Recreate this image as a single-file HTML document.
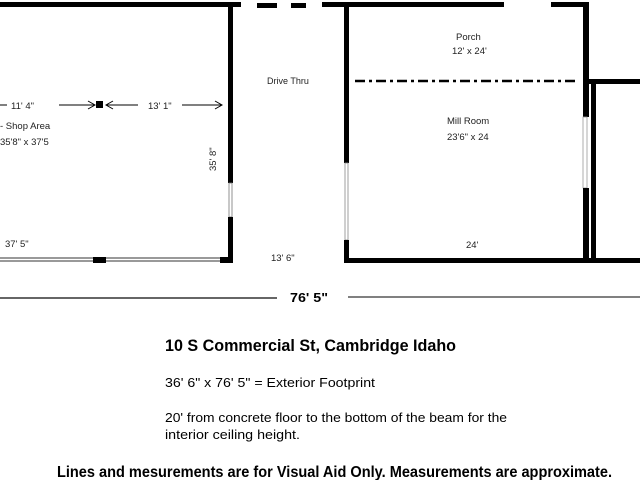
<!DOCTYPE html>
<html><head><style>body{margin:0;background:#fff}svg{display:block}</style></head>
<body>
<svg width="640" height="480" viewBox="0 0 640 480" xmlns="http://www.w3.org/2000/svg" font-family="Liberation Sans, sans-serif">
<rect width="640" height="480" fill="#fff"/>
<!-- Shop area -->
<rect x="0" y="2" width="241" height="5" fill="#000"/>
<rect x="228" y="5" width="5" height="178" fill="#000"/>
<rect x="229" y="183" width="3" height="34" fill="#fff" stroke="#777" stroke-width="0.8"/>
<rect x="228" y="217" width="5" height="46" fill="#000"/>
<rect x="0" y="257" width="233" height="5" fill="#999"/>
<rect x="0" y="259" width="233" height="1" fill="#fff"/>
<rect x="93" y="257" width="13" height="6" fill="#000"/>
<rect x="220" y="257" width="13" height="6" fill="#000"/>
<!-- drive thru dashes -->
<rect x="257" y="3" width="20" height="5" fill="#000"/>
<rect x="291" y="3" width="15" height="5" fill="#000"/>
<!-- Right building -->
<rect x="322" y="2" width="182" height="5" fill="#000"/>
<rect x="551" y="2" width="37" height="5" fill="#000"/>
<rect x="344" y="2" width="5" height="161" fill="#000"/>
<rect x="345" y="163" width="3" height="77" fill="#fff" stroke="#888" stroke-width="0.8"/>
<rect x="344" y="240" width="5" height="23" fill="#000"/>
<rect x="344" y="258" width="249" height="5" fill="#000"/>
<rect x="583" y="2" width="6" height="115" fill="#000"/>
<rect x="583" y="117" width="4" height="71" fill="#fff" stroke="#999" stroke-width="0.8"/>
<rect x="583" y="188" width="6" height="75" fill="#000"/>
<line x1="355" y1="81" x2="578" y2="81" stroke="#000" stroke-width="2.5" stroke-dasharray="10,4,3,4"/>
<!-- annex -->
<rect x="587" y="79" width="53" height="5" fill="#000"/>
<rect x="591" y="79" width="5" height="184" fill="#000"/>
<rect x="591" y="258" width="49" height="5" fill="#000"/>
<!-- arrows -->
<g stroke="#000" stroke-width="1" fill="none">
<line x1="0" y1="105" x2="7" y2="105"/>
<line x1="59" y1="105" x2="95" y2="105"/><polyline points="88,101 95,105 88,109"/>
<line x1="106" y1="105" x2="138" y2="105"/><polyline points="113,101 106,105 113,109"/>
<line x1="182" y1="105" x2="222" y2="105"/><polyline points="215,101 222,105 215,109"/>
</g>
<rect x="96" y="101" width="7" height="7" fill="#000"/>
<g font-size="9.5" fill="#222">
<text x="11" y="109">11' 4"</text>
<text x="148" y="109">13' 1"</text>
<text x="0" y="129">- Shop Area</text>
<text x="0" y="145">35'8" x 37'5</text>
<text x="216" y="171" transform="rotate(-90 216 171)">35' 8"</text>
<text x="267" y="84" font-size="9">Drive Thru</text>
<text x="5" y="247">37' 5"</text>
<text x="271" y="261">13' 6"</text>
<text x="456" y="40">Porch</text>
<text x="452" y="54">12' x 24'</text>
<text x="447" y="124">Mill Room</text>
<text x="447" y="140">23'6" x 24</text>
<text x="466" y="248">24'</text>
</g>
<!-- dimension -->
<line x1="0" y1="298" x2="277" y2="298" stroke="#333" stroke-width="1.5"/>
<line x1="348" y1="297" x2="640" y2="297" stroke="#000" stroke-width="1"/>
<text x="290" y="302" font-size="13" font-weight="bold" textLength="38" lengthAdjust="spacingAndGlyphs">76' 5"</text>
<text x="165" y="351" font-size="17" font-weight="bold" textLength="291" lengthAdjust="spacingAndGlyphs">10 S Commercial St, Cambridge Idaho</text>
<text x="165" y="387" font-size="13" textLength="210" lengthAdjust="spacingAndGlyphs">36' 6" x 76' 5"  = Exterior Footprint</text>
<text x="165" y="422" font-size="13" textLength="342" lengthAdjust="spacingAndGlyphs">20' from concrete floor to the bottom of the beam for the</text>
<text x="165" y="439" font-size="13" textLength="135" lengthAdjust="spacingAndGlyphs">interior ceiling height.</text>
<text x="57" y="477" font-size="16" font-weight="bold" textLength="555" lengthAdjust="spacingAndGlyphs">Lines and mesurements are for Visual Aid Only. Measurements are approximate.</text>
</svg>
</body></html>
